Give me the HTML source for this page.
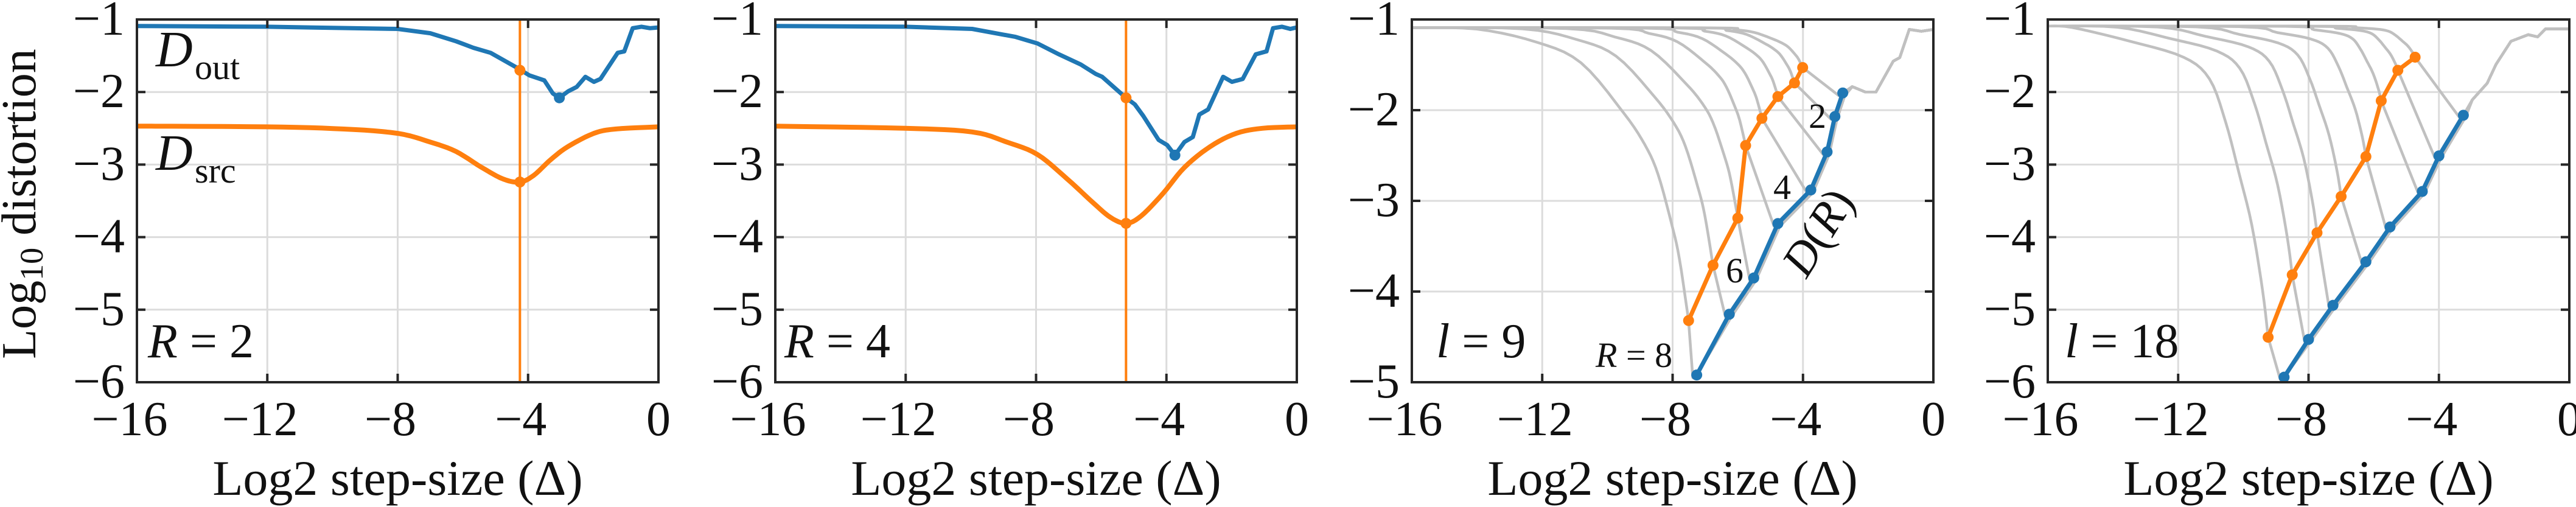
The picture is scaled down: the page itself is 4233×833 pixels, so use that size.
<!DOCTYPE html>
<html><head><meta charset="utf-8">
<style>
html,body{margin:0;padding:0;background:#fff;}
svg{display:block;}
text{font-family:"Liberation Serif",serif;fill:#111;}
</style></head>
<body>
<svg id="s" width="4233" height="833" xmlns="http://www.w3.org/2000/svg"></svg>
<script>
const S=document.getElementById('s');
let out='';
const BLUE='#1f77b4',OR='#ff7f0e',GR='#c0c0c0';
const T=32,B=628,W=857;
function panel(L,ymax,cfg){
  const sx=x=>L+(x+16)*W/16, sy=y=>T+(y-1)*(B-T)/(ymax-1);
  const pts=a=>a.map(p=>sx(p[0]).toFixed(1)+','+sy(p[1]).toFixed(1)).join(' ');
  let o='';
  for(let x=-12;x<0;x+=4)o+=`<line x1="${sx(x)}" y1="${T}" x2="${sx(x)}" y2="${B}" stroke="#dcdcdc" stroke-width="3"/>`;
  for(let y=2;y<ymax;y++)o+=`<line x1="${L}" y1="${sy(y)}" x2="${L+W}" y2="${sy(y)}" stroke="#dcdcdc" stroke-width="3"/>`;
  o+=cfg.draw(sx,sy,pts);
  o+=`<rect x="${L}" y="${T}" width="${W}" height="${B-T}" fill="none" stroke="#262626" stroke-width="4"/>`;
  for(let x=-12;x<0;x+=4){o+=`<line x1="${sx(x)}" y1="${T}" x2="${sx(x)}" y2="${T+14}" stroke="#262626" stroke-width="4"/><line x1="${sx(x)}" y1="${B}" x2="${sx(x)}" y2="${B-14}" stroke="#262626" stroke-width="4"/>`;}
  for(let y=2;y<ymax;y++){o+=`<line x1="${L}" y1="${sy(y)}" x2="${L+14}" y2="${sy(y)}" stroke="#262626" stroke-width="4"/><line x1="${L+W}" y1="${sy(y)}" x2="${L+W-14}" y2="${sy(y)}" stroke="#262626" stroke-width="4"/>`;}
  for(let y=1;y<=ymax;y++)o+=`<text x="${L-20}" y="${sy(y)+25}" font-size="80" text-anchor="end">−${y}</text>`;
  for(let x=-16;x<=0;x+=4)o+=`<text x="${sx(x)-(x<0?12:0)}" y="715" font-size="80" text-anchor="middle">${x<0?'−'+(-x):'0'}</text>`;
  o+=`<text x="${L+W/2}" y="813" font-size="82" text-anchor="middle">Log2 step-size (Δ)</text>`;
  return o;
}
function dots(a,sx,sy,c){return a.map(p=>`<circle cx="${sx(p[0])}" cy="${sy(p[1])}" r="9" fill="${c}"/>`).join('');}
function line(a,pts,c,w){return `<polyline points="${pts(a)}" fill="none" stroke="${c}" stroke-width="${w}" stroke-linejoin="round"/>`;}
function smooth(a,n){n=n||6;const r=[];for(let i=0;i<a.length-1;i++){const p0=a[Math.max(i-1,0)],p1=a[i],p2=a[i+1],p3=a[Math.min(i+2,a.length-1)];for(let k=0;k<n;k++){const t=k/n,t2=t*t,t3=t2*t;const f=(q0,q1,q2,q3)=>0.5*((2*q1)+(-q0+q2)*t+(2*q0-5*q1+4*q2-q3)*t2+(-q0+3*q1-3*q2+q3)*t3);r.push([f(p0[0],p1[0],p2[0],p3[0]),f(p0[1],p1[1],p2[1],p3[1])]);}}r.push(a[a.length-1]);return r;}

const b1=[[-16,1.09],[-12.03,1.10],[-8,1.13],[-7,1.19],[-6.21,1.30],[-5.68,1.39],[-5.15,1.46],[-4.36,1.66],[-3.96,1.77],[-3.5,1.84],[-3.24,2.02],[-3.04,2.08],[-2.77,1.99],[-2.51,1.93],[-2.24,1.79],[-1.98,1.86],[-1.78,1.82],[-1.25,1.46],[-1.05,1.44],[-0.79,1.12],[-0.52,1.10],[-0.26,1.12],[0,1.11]];
const o1=[[-16,2.47],[-12.03,2.48],[-9.65,2.51],[-8,2.57],[-7,2.69],[-6.21,2.82],[-5.42,3.04],[-4.76,3.20],[-4.25,3.24],[-3.83,3.15],[-3.30,2.93],[-2.77,2.75],[-1.98,2.57],[-1.32,2.51],[0,2.48]];
out+=panel(225,6,{draw:(sx,sy,pts)=>line(b1,pts,BLUE,7)+line(smooth(o1),pts,OR,8)+
 `<line x1="${sx(-4.25)}" y1="${T}" x2="${sx(-4.25)}" y2="${B}" stroke="${OR}" stroke-width="4"/>`+
 dots([[-3.04,2.08]],sx,sy,BLUE)+dots([[-4.25,1.70],[-4.25,3.24]],sx,sy,OR)});
out+=`<text x="256" y="109" font-size="84" font-style="italic">D</text><text x="320" y="130" font-size="58">out</text>`;
out+=`<text x="256" y="279" font-size="84" font-style="italic">D</text><text x="320" y="300" font-size="58">src</text>`;
out+=`<text x="243" y="587" font-size="80"><tspan font-style="italic">R</tspan> = 2</text>`;

const b2=[[-16,1.09],[-12.02,1.10],[-9.96,1.13],[-8.63,1.24],[-7.96,1.33],[-7.3,1.48],[-6.63,1.62],[-6.17,1.75],[-5.97,1.79],[-5.57,1.95],[-5.24,2.08],[-4.97,2.17],[-4.71,2.33],[-4.24,2.66],[-3.98,2.73],[-3.74,2.87],[-3.45,2.69],[-3.19,2.62],[-2.99,2.31],[-2.72,2.24],[-2.26,1.79],[-1.99,1.86],[-1.66,1.82],[-1.26,1.48],[-0.93,1.44],[-0.73,1.12],[-0.46,1.10],[-0.2,1.13],[0,1.11]];
const o2=[[-16,2.47],[-12.02,2.50],[-9.96,2.55],[-8.9,2.69],[-7.96,2.86],[-7.04,3.20],[-6.24,3.53],[-5.71,3.73],[-5.24,3.81],[-4.78,3.71],[-4.11,3.40],[-3.45,3.04],[-2.65,2.75],[-1.86,2.57],[-1.06,2.50],[0,2.48]];
out+=panel(1274,6,{draw:(sx,sy,pts)=>line(b2,pts,BLUE,7)+line(smooth(o2),pts,OR,8)+
 `<line x1="${sx(-5.24)}" y1="${T}" x2="${sx(-5.24)}" y2="${B}" stroke="${OR}" stroke-width="4"/>`+
 dots([[-3.74,2.87]],sx,sy,BLUE)+dots([[-5.24,2.08],[-5.24,3.81]],sx,sy,OR)});
out+=`<text x="1289" y="587" font-size="80"><tspan font-style="italic">R</tspan> = 4</text>`;

function grays(oP,bP,tail,offs,fr){
  let res=[];
  for(let k=0;k<oP.length;k++){
    const [ox,oy]=oP[k],[bx,by]=bP[k];
    const sc=Math.sqrt((oy-1.09)/(oP[oP.length-1][1]-1.09));
    let c=[[-16,1.09]];
    for(let i=0;i<offs.length;i++){const x=ox+offs[i]*Math.max(sc,0.45);if(x>-16)c.push([x,1.09+(oy-1.09)*fr[i]]);}
    c.push([ox,oy]);
    c=smooth(c,5);
    c.push([bx-0.12,by+0.03]);c.push([bx,by]);
    for(let j=k-1;j>=0;j--)c.push([bP[j][0]+0.06,bP[j][1]+0.03]);
    c=c.concat(tail);
    res.push(c);
  }
  return res;
}
const o3=[[-4.01,1.53],[-4.26,1.70],[-4.77,1.85],[-5.26,2.09],[-5.76,2.39],[-6.0,3.19],[-6.76,3.71],[-7.51,4.32]];
const b3=[[-2.78,1.81],[-3.02,2.07],[-3.26,2.46],[-3.76,2.88],[-4.77,3.25],[-5.51,3.85],[-6.26,4.25],[-7.26,4.92]];
const t3=[[-2.49,1.74],[-2.09,1.80],[-1.76,1.80],[-1.23,1.46],[-1.03,1.42],[-0.74,1.11],[-0.37,1.13],[0,1.11]];
const g3=grays(o3,b3,t3,[-6.5,-4.65,-3.3,-2.0,-1.34,-0.94,-0.52,-0.28],[0.005,0.05,0.12,0.29,0.40,0.50,0.67,0.79]);
out+=panel(2320,5,{draw:(sx,sy,pts)=>g3.map(c=>line(c,pts,GR,4.5)).join('')+line(o3,pts,OR,7)+line(b3,pts,BLUE,7)+dots(o3,sx,sy,OR)+dots(b3,sx,sy,BLUE)});
out+=`<text x="2360" y="587" font-size="80"><tspan font-style="italic">l</tspan> = 9</text>`;
out+=`<text x="2622" y="603" font-size="58"><tspan font-style="italic">R</tspan> = 8</text>`;
out+=`<text x="2972" y="210" font-size="58">2</text><text x="2914" y="327" font-size="58">4</text><text x="2836" y="464" font-size="58">6</text>`;
out+=`<text x="2990" y="405" font-size="76" text-anchor="middle" transform="rotate(-58 2990 383)"><tspan font-style="italic">D</tspan>(<tspan font-style="italic">R</tspan>)</text>`;

const o4=[[-4.73,1.52],[-5.26,1.70],[-5.77,2.12],[-6.24,2.89],[-7.0,3.44],[-7.74,3.94],[-8.50,4.52],[-9.24,5.38]];
const b4=[[-3.25,2.32],[-4.0,2.88],[-4.51,3.37],[-5.50,3.86],[-6.24,4.34],[-7.25,4.94],[-8.0,5.41],[-8.75,5.93]];
const t4=[[-2.98,2.11],[-2.52,1.88],[-2.25,1.62],[-1.79,1.30],[-1.26,1.21],[-0.97,1.24],[-0.73,1.13],[0,1.13]];
const g4=grays(o4,b4,t4,[-6,-4.2,-2.6,-1.8,-1.3,-0.9,-0.5,-0.17],[0.005,0.05,0.10,0.17,0.31,0.47,0.64,0.85]);
out+=panel(3365,6,{draw:(sx,sy,pts)=>g4.map(c=>line(c,pts,GR,4.5)).join('')+line(o4,pts,OR,7)+line(b4,pts,BLUE,7)+dots(o4,sx,sy,OR)+dots(b4,sx,sy,BLUE)});
out+=`<text x="3393" y="587" font-size="80"><tspan font-style="italic">l</tspan> = 18</text>`;

out+=`<text x="0" y="0" font-size="80" text-anchor="middle" transform="translate(58 335) rotate(-90)">Log<tspan font-size="54" dy="12">10</tspan><tspan dy="-12"> distortion</tspan></text>`;
S.innerHTML=out;
</script>
</body></html>
